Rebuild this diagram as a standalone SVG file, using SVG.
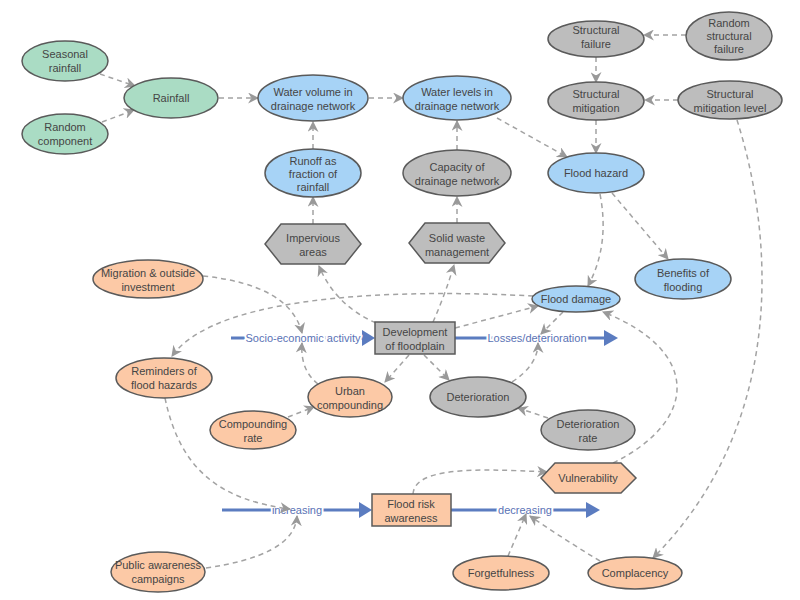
<svg xmlns="http://www.w3.org/2000/svg" width="800" height="600" viewBox="0 0 800 600">
<defs>
<marker id="ah" viewBox="0 0 10 10" refX="9" refY="5" markerWidth="11" markerHeight="11" markerUnits="userSpaceOnUse" orient="auto"><path d="M0,0 L10,5 L0,10 L3,5 z" fill="#999"/></marker>
<style>
.n{stroke:#5a5a5a;stroke-width:1.5}
.g{fill:#aadcc4}.b{fill:#a7d3f6}.y{fill:#bdbdbd}.o{fill:#fcc9a6}
text{font-family:"Liberation Sans",Arial,sans-serif;font-size:11px;fill:#454545;text-anchor:middle}
.c{fill:none;stroke:#a3a3a3;stroke-width:1.5;stroke-dasharray:5,4;marker-end:url(#ah)}
.fl{stroke:#5b7cc0;stroke-width:3;fill:none}
.fh{fill:#5b7cc0}
.ft{fill:#5a72b5;stroke:#fff;stroke-width:4;paint-order:stroke;stroke-linejoin:round}
</style>
</defs>
<rect width="800" height="600" fill="#fff"/>

<g id="flows">
<line class="fl" x1="231" y1="338" x2="364" y2="338"/><polygon class="fh" points="362,330 375,338 362,346"/>
<line class="fl" x1="455" y1="338" x2="606" y2="338"/><polygon class="fh" points="604,330 618,338 604,346"/>
<line class="fl" x1="222" y1="510" x2="361" y2="510"/><polygon class="fh" points="359,502 372,510 359,518"/>
<line class="fl" x1="451" y1="510" x2="588" y2="510"/><polygon class="fh" points="586,502 600,510 586,518"/>
<text class="ft" x="303" y="342">Socio-economic activity</text>
<text class="ft" x="537" y="342">Losses/deterioration</text>
<text class="ft" x="297" y="514">increasing</text>
<text class="ft" x="525" y="514">decreasing</text>
</g>

<g id="connectors">
<path class="c" d="M100,74 L135,86"/>
<path class="c" d="M102,122 L134,110"/>
<path class="c" d="M219,98 L258,98"/>
<path class="c" d="M369,98 L403,98"/>
<path class="c" d="M313,149 L313,122"/>
<path class="c" d="M313,224 L313,197"/>
<path class="c" d="M457,150 L457,121"/>
<path class="c" d="M457,223 L457,197"/>
<path class="c" d="M497,118 L567,157"/>
<path class="c" d="M596,57 L596,82"/>
<path class="c" d="M686,35 L644,35"/>
<path class="c" d="M678,100 L645,100"/>
<path class="c" d="M596,120 L596,153"/>
<path class="c" d="M612,193 L668,259"/>
<path class="c" d="M600,194 Q610,245 588,286"/>
<path class="c" d="M737,120 C772,230 790,420 653,558"/>
<path class="c" d="M376,323 Q335,305 319,266"/>
<path class="c" d="M433,322 Q445,295 454,265"/>
<path class="c" d="M455,328 L538,306"/>
<path class="c" d="M409,355 L385,382"/>
<path class="c" d="M424,355 L449,380"/>
<path class="c" d="M512,382 Q538,365 538,343"/>
<path class="c" d="M563,312 L541,334"/>
<path class="c" d="M548,418 L518,408"/>
<path class="c" d="M288,417 L314,407"/>
<path class="c" d="M203,276 Q290,285 302,333"/>
<path class="c" d="M318,384 Q300,370 302,343"/>
<path class="c" d="M533,296 C420,290 220,290 172,356"/>
<path class="c" d="M165,398 C180,470 220,500 290,509"/>
<path class="c" d="M206,568 C260,560 295,545 297,516"/>
<path class="c" d="M413,494 C415,468 470,468 547,472"/>
<path class="c" d="M613,463 C700,420 700,350 603,312"/>
<path class="c" d="M508,556 L526,514"/>
<path class="c" d="M600,561 Q565,540 530,516"/>
</g>

<g id="seasonal-rainfall"><ellipse class="n g" cx="65" cy="61" rx="43" ry="20"/><text x="65" y="58">Seasonal</text><text x="65" y="72">rainfall</text></g>
<g id="random-component"><ellipse class="n g" cx="65" cy="134" rx="43" ry="20"/><text x="65" y="131">Random</text><text x="65" y="145">component</text></g>
<g id="rainfall"><ellipse class="n g" cx="171" cy="98" rx="47" ry="20"/><text x="171" y="102">Rainfall</text></g>
<g id="water-volume"><ellipse class="n b" cx="313" cy="98" rx="55" ry="23"/><text x="313" y="96">Water volume in</text><text x="313" y="110">drainage network</text></g>
<g id="water-levels"><ellipse class="n b" cx="457" cy="98" rx="54" ry="22"/><text x="457" y="96">Water levels in</text><text x="457" y="110">drainage network</text></g>
<g id="runoff"><ellipse class="n b" cx="313" cy="173" rx="48" ry="24"/><text x="313" y="165">Runoff as</text><text x="313" y="178">fraction of</text><text x="313" y="191">rainfall</text></g>
<g id="capacity"><ellipse class="n y" cx="457" cy="173" rx="54" ry="23"/><text x="457" y="171">Capacity of</text><text x="457" y="185">drainage network</text></g>
<g id="impervious"><polygon class="n y" points="265,244 281,224 345,224 361,244 345,264 281,264"/><text x="313" y="242">Impervious</text><text x="313" y="256">areas</text></g>
<g id="solid-waste"><polygon class="n y" points="409,243 425,223 489,223 505,243 489,263 425,263"/><text x="457" y="242">Solid waste</text><text x="457" y="256">management</text></g>
<g id="structural-failure"><ellipse class="n y" cx="596" cy="39" rx="48" ry="18"/><text x="596" y="34">Structural</text><text x="596" y="48">failure</text></g>
<g id="random-structural-failure"><ellipse class="n y" cx="729" cy="36" rx="43" ry="24"/><text x="729" y="27">Random</text><text x="729" y="40">structural</text><text x="729" y="53">failure</text></g>
<g id="structural-mitigation"><ellipse class="n y" cx="596" cy="101" rx="48" ry="19"/><text x="596" y="98">Structural</text><text x="596" y="112">mitigation</text></g>
<g id="structural-mitigation-level"><ellipse class="n y" cx="730" cy="100" rx="52" ry="19"/><text x="730" y="98">Structural</text><text x="730" y="112">mitigation level</text></g>
<g id="flood-hazard"><ellipse class="n b" cx="596" cy="173" rx="48" ry="20"/><text x="596" y="177">Flood hazard</text></g>
<g id="benefits"><ellipse class="n b" cx="683" cy="279" rx="48" ry="20"/><text x="683" y="277">Benefits of</text><text x="683" y="291">flooding</text></g>
<g id="flood-damage"><ellipse class="n b" cx="576" cy="299" rx="44" ry="13"/><text x="576" y="303">Flood damage</text></g>
<g id="migration"><ellipse class="n o" cx="148" cy="279" rx="55" ry="19"/><text x="148" y="277">Migration &amp; outside</text><text x="148" y="291">investment</text></g>
<g id="development"><rect class="n y" x="375" y="322" width="80" height="32"/><text x="415" y="336">Development</text><text x="415" y="350">of floodplain</text></g>
<g id="reminders"><ellipse class="n o" cx="164" cy="378" rx="48" ry="20"/><text x="164" y="375">Reminders of</text><text x="164" y="389">flood hazards</text></g>
<g id="urban-compounding"><ellipse class="n o" cx="350" cy="397" rx="42" ry="20"/><text x="350" y="395">Urban</text><text x="350" y="409">compounding</text></g>
<g id="compounding-rate"><ellipse class="n o" cx="253" cy="430" rx="43" ry="19"/><text x="253" y="428">Compounding</text><text x="253" y="442">rate</text></g>
<g id="deterioration"><ellipse class="n y" cx="478" cy="397" rx="48" ry="20"/><text x="478" y="401">Deterioration</text></g>
<g id="deterioration-rate"><ellipse class="n y" cx="588" cy="430" rx="47" ry="20"/><text x="588" y="428">Deterioration</text><text x="588" y="442">rate</text></g>
<g id="vulnerability"><polygon class="n o" points="541,478 555,463 621,463 636,478 621,493 555,493"/><text x="588" y="482">Vulnerability</text></g>
<g id="flood-risk-awareness"><rect class="n o" x="372" y="494" width="79" height="32"/><text x="411" y="508">Flood risk</text><text x="411" y="522">awareness</text></g>
<g id="public-awareness"><ellipse class="n o" cx="158" cy="572" rx="47" ry="20"/><text x="158" y="569">Public awareness</text><text x="158" y="583">campaigns</text></g>
<g id="forgetfulness"><ellipse class="n o" cx="501" cy="573" rx="48" ry="17"/><text x="501" y="577">Forgetfulness</text></g>
<g id="complacency"><ellipse class="n o" cx="635" cy="573" rx="47" ry="16"/><text x="635" y="577">Complacency</text></g>
</svg>
